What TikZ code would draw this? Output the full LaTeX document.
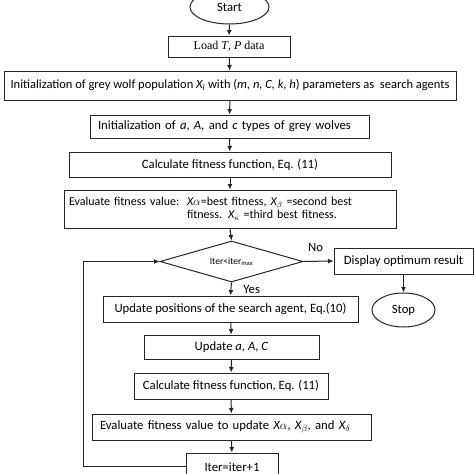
\documentclass[tikz,border=0pt]{standalone}
\usepackage{fontspec}
\setmainfont{Carlito}
\newfontfamily\timesf{Liberation Serif}
\usetikzlibrary{shapes.geometric,arrows.meta}
\begin{document}
\begin{tikzpicture}[x=1pt,y=-1pt,
  every node/.style={font=\fontsize{12.7}{14.5}\selectfont, inner sep=0pt},
  box/.style={draw=black!85, line width=1pt, rectangle, align=center},
  term/.style={draw=black!85, line width=1pt, ellipse},
  dec/.style={draw=black!85, line width=1pt, diamond, aspect=3.5},
  arr/.style={draw=black!85, line width=1pt, -{Latex[length=5.5pt,width=5pt]}}]
\useasboundingbox (0,0) rectangle (474,474);
\fill[white] (0,0) rectangle (474,474);
\node[term, minimum width=79, minimum height=34] (start) at (229.5,7) {Start};
\node[box, minimum width=122, minimum height=21, font=\timesf\fontsize{12}{14}\selectfont] (load) at (229,46.5) {Load \textit{T}, \textit{P} data};
\node[box, minimum width=452, minimum height=29, font=\fontsize{12.5}{14.5}\selectfont] (init) at (230,85.5) {Initialization of grey wolf population \textit{X\textsubscript{i}} with (\textit{m, n, C, k, h}) parameters as\ \ search agents};
\node[box, minimum width=279, minimum height=23, text width=279, align=left] (initabc) at (229.5,126.5) {\hspace{8pt}Initialization of \textit{a}, \textit{A,} and \textit{c} types of grey wolves};
\node[box, minimum width=322, minimum height=25] (calc) at (230,164.5) {Calculate fitness function, Eq. (11)};
\node[box, minimum width=332, minimum height=38, text width=332, align=left, font=\fontsize{12}{14}\selectfont] (eval) at (230,209) {\hspace{5pt}\begin{tabular}{@{}l@{}l@{}}\makebox[118pt][l]{Evaluate fitness value:} & \textit{X$\alpha$}=best fitness, \textit{X\textsubscript{$\beta$}} =second best\\[-1pt] & fitness. \textit{X\textsubscript{$\kappa$}} =third best fitness.\end{tabular}};
\node[dec, minimum width=143, minimum height=41] (cond) at (231.5,261.5) {};
\node[font=\fontsize{9.5}{11}\selectfont] at (cond.center) {Iter<iter\textsubscript{max}};
\node[box, minimum width=139, minimum height=26] (disp) at (403.5,261) {Display optimum result};
\node[term, minimum width=63, minimum height=34] (stop) at (403.5,310) {Stop};
\node[box, minimum width=255, minimum height=26] (upd) at (230.5,309) {Update positions of the search agent, Eq.(10)};
\node[box, minimum width=175, minimum height=24] (upda) at (231.5,347) {Update \textit{a}, \textit{A}, \textit{C}};
\node[box, minimum width=194, minimum height=26] (calc2) at (231,386) {Calculate fitness function, Eq. (11)};
\node[box, minimum width=279, minimum height=26, text width=279, align=left] (eval2) at (231.5,427) {\hspace{8pt}Evaluate fitness value to update \textit{X$\alpha$}, \textit{X\textsubscript{$\beta$}}, and \textit{X\textsubscript{$\delta$}}};
\node[box, minimum width=92, minimum height=28] (iter) at (232,467) {Iter=iter+1};
\draw[arr] (start.south) -- (load.north);
\draw[arr] (load) -- (init);
\draw[arr] (init) -- (initabc);
\draw[arr] (initabc) -- (calc);
\draw[arr] (calc) -- (eval);
\draw[arr] (eval.south) -- (cond.north);
\draw[arr] (cond.east) -- node[above, pos=0.4, yshift=9pt] (no) {No} (disp.west);
\draw[arr] (cond.south) -- node[right, pos=0.55, xshift=12pt] (yes) {Yes} (upd.north);
\draw[arr] (disp) -- (stop);
\draw[arr] (upd) -- (upda);
\draw[arr] (upda) -- (calc2);
\draw[arr] (calc2) -- (eval2);
\draw[arr] (eval2) -- (iter);
\coordinate (lb) at (83,466);
\coordinate (lt) at (83,261.5);
\draw[arr] (iter.west |- lb) -- (lb) -- (lt) -- (cond.west);
\end{tikzpicture}
\end{document}
